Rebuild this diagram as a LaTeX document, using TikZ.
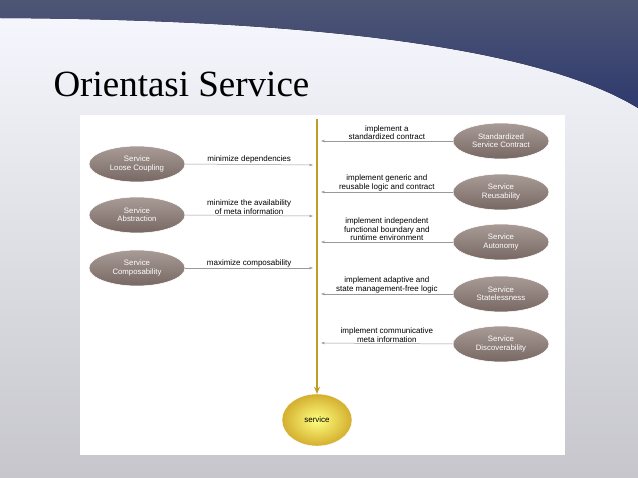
\documentclass[tikz,border=0pt]{standalone}
\usepackage{fontspec}
\setmainfont{Liberation Serif}
\newfontfamily\diag{Liberation Sans}
\usetikzlibrary{shapes.geometric,arrows.meta}
\definecolor{navy}{HTML}{2E3A6E}
\definecolor{pbrown}{HTML}{8C7A74}
\definecolor{gold}{HTML}{D4AE2E}
\tikzset{
 pr/.style={ellipse,minimum width=96pt,minimum height=36pt,inner sep=0pt,
   top color=pbrown!75!white,bottom color=pbrown!85!black,draw=white,line width=0.6pt,
   text=white,font=\diag\fontsize{7.8}{8.4}\selectfont,align=center},
 lab/.style={font=\diag\fontsize{8}{8.4}\selectfont,align=center,anchor=south,inner sep=1pt},
 con/.style={draw=gray!80,line width=0.5pt,-{Stealth[length=4pt,width=2.5pt]}}
}
\begin{document}
\begin{tikzpicture}[x=1pt,y=-1pt]
\useasboundingbox (0,0) rectangle (638,478);
\fill[top color=white!97!blue,bottom color=white!96!blue!60!gray] (0,0) rectangle (638,478);
\fill[top color=navy!60!gray,bottom color=navy] (0,0) -- (638,0) -- (638,108) .. controls (560,60) and (380,20) .. (0,18) -- cycle;
\node[anchor=west,font=\fontsize{37}{39}\selectfont] (title) at (50,84) {Orientasi Service};
\fill[white] (80,115) rectangle (565,455);
\node[ellipse,minimum width=70pt,minimum height=52pt,inner sep=0pt,draw=white,
  inner color=yellow!50!white,outer color=gold,font=\diag\fontsize{8}{9}\selectfont] (svc) at (317,420) {service};
\coordinate (top) at (317,119);
\draw[draw=gold!90!black,line width=1.5pt,-{Stealth[length=7pt,width=6pt]}] (top) -- (svc.north);
\node[pr] (lc) at (137,164) {Service\\Loose Coupling};
\node[pr] (ab) at (137,215) {Service\\Abstraction};
\node[pr] (co) at (137,268) {Service\\Composability};
\coordinate (lci) at (313,165);\coordinate (abi) at (313,216);\coordinate (coi) at (313,268);
\draw[con] (lc.east) -- (lci) node[lab,pos=0.5] {minimize dependencies};
\draw[con] (ab.east) -- (abi) node[lab,pos=0.5] {minimize the availability\\of meta information};
\draw[con] (co.east) -- (coi) node[lab,pos=0.5] {maximize composability};
\node[pr] (sc) at (501,141) {Standardized\\Service Contract};
\node[pr] (re) at (501,192) {Service\\Reusability};
\node[pr] (au) at (501,242) {Service\\Autonomy};
\node[pr] (st) at (501,294) {Service\\Statelessness};
\node[pr] (di) at (501,344) {Service\\Discoverability};
\coordinate (sci) at (321,141);\coordinate (rei) at (321,192);\coordinate (aui) at (321,242);
\coordinate (sti) at (321,294);\coordinate (dii) at (321,343);
\draw[con] (sc.west) -- (sci) node[lab,pos=0.5] {implement a\\standardized contract};
\draw[con] (re.west) -- (rei) node[lab,pos=0.5] {implement generic and\\reusable logic and contract};
\draw[con] (au.west) -- (aui) node[lab,pos=0.5] {implement independent\\functional boundary and\\runtime environment};
\draw[con] (st.west) -- (sti) node[lab,pos=0.5] {implement adaptive and\\state management-free logic};
\draw[con] (di.west) -- (dii) node[lab,pos=0.5] {implement communicative\\meta information};
\end{tikzpicture}
\end{document}
